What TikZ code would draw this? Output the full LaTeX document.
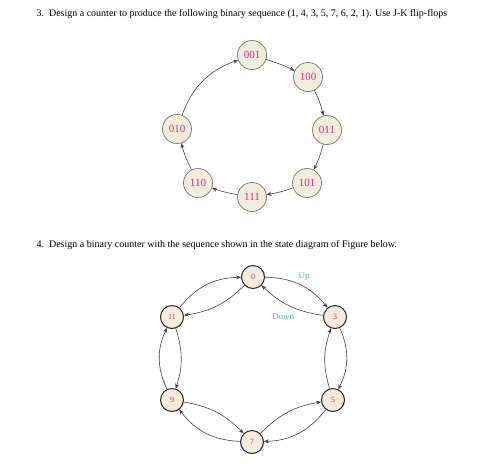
\documentclass[tikz,border=0pt]{standalone}
\usepackage{fontspec}
\setmainfont{Liberation Serif}
\usepackage{xcolor}
\usetikzlibrary{arrows.meta}
\definecolor{statefill}{HTML}{F3ECDD}
\definecolor{statetext}{HTML}{C8327F}
\definecolor{updown}{HTML}{3FAFCB}

\begin{document}
\begin{tikzpicture}[x=1pt, y=-1pt,
    >={Stealth[length=5pt,width=4pt]},
    binstate/.style={circle, draw=black!60, line width=0.6pt, fill=statefill, minimum size=29pt, inner sep=0pt, font=\fontsize{11}{11}\selectfont, text=statetext},
    cntstate/.style={circle, draw=black!85, line width=1pt, fill=statefill, minimum size=23pt, inner sep=0pt, font=\fontsize{8}{8}\selectfont, text=statetext},
    task/.style={anchor=west, font=\fontsize{10}{10}\selectfont},
    link/.style={->, black!75, line width=0.6pt},
    dirlabel/.style={font=\fontsize{9}{9}\selectfont, text=updown}
]
    \useasboundingbox (0,0) rectangle (487,475);

    % Task texts
    \node[task] (q3) at (33,14) {3.\enspace Design a counter to produce the following binary sequence (1, 4, 3, 5, 7, 6, 2, 1). Use J-K flip-flops};
    \node[task] (q4) at (33,245) {4.\enspace Design a binary counter with the sequence shown in the state diagram of Figure below.};

    % States of the first counter
    \node[binstate] (s001) at (252,55) {001};
    \node[binstate] (s100) at (308,77) {100};
    \node[binstate] (s011) at (327,130) {011};
    \node[binstate] (s101) at (307,183) {101};
    \node[binstate] (s111) at (252,197) {111};
    \node[binstate] (s110) at (198,183) {110};
    \node[binstate] (s010) at (177,129) {010};

    % Transitions of the first counter
    \draw[link] (s001) to[bend left=4] (s100);
    \draw[link] (s100) to[bend left=6] (s011);
    \draw[link] (s011) to[bend left=6] (s101);
    \draw[link] (s101) to[bend left=5] (s111);
    \draw[link] (s111) to[bend left=5] (s110);
    \draw[link] (s110) to[bend left=5] (s010);
    \draw[link] (s010) to[out=70, in=200] (s001);

    % States of the second counter
    \node[cntstate] (c0) at (253,277) {0};
    \node[cntstate] (c3) at (335,317) {3};
    \node[cntstate] (c5) at (333,400) {5};
    \node[cntstate] (c7) at (252,442) {7};
    \node[cntstate] (c9) at (172,400) {9};
    \node[cntstate] (c11) at (172,317) {11};

    % Up transitions (outer)
    \draw[link] (c0) to[bend left=25] (c3);
    \draw[link] (c3) to[bend left=25] (c5);
    \draw[link] (c5) to[bend left=25] (c7);
    \draw[link] (c7) to[bend left=25] (c9);
    \draw[link] (c9) to[bend left=25] (c11);
    \draw[link] (c11) to[bend left=25] (c0);

    % Down transitions (inner)
    \draw[link] (c3) to[bend left=18] (c0);
    \draw[link] (c5) to[bend left=18] (c3);
    \draw[link] (c7) to[bend left=18] (c5);
    \draw[link] (c9) to[bend left=18] (c7);
    \draw[link] (c11) to[bend left=18] (c9);
    \draw[link] (c0) to[bend left=18] (c11);

    \node[dirlabel] (up) at (304,277) {Up};
    \node[dirlabel] (down) at (283,317) {Down};
\end{tikzpicture}
\end{document}
